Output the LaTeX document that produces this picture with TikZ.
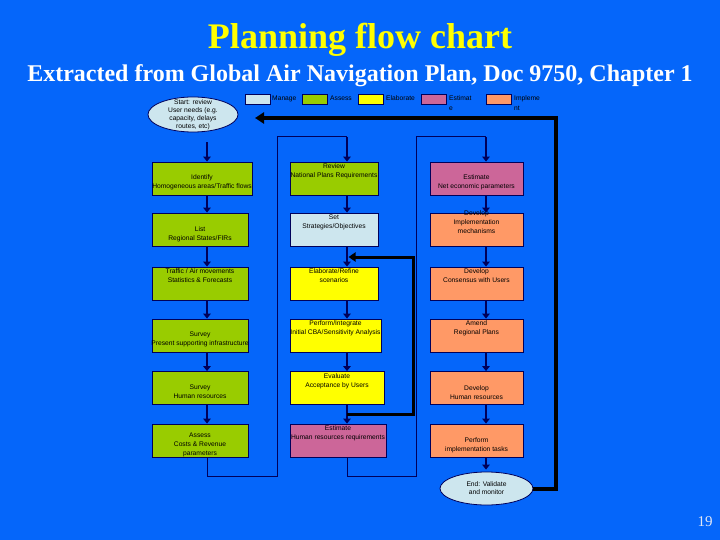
\documentclass[tikz,border=0pt]{standalone}
\usepackage{fontspec}
\setmainfont{Liberation Serif}
\setsansfont{Liberation Sans}
\usetikzlibrary{arrows.meta,shapes.geometric,calc}
\definecolor{bg}{RGB}{5,102,250}
\definecolor{cManage}{RGB}{205,230,238}
\definecolor{cAssess}{RGB}{153,204,0}
\definecolor{cElab}{RGB}{255,255,0}
\definecolor{cEst}{RGB}{204,102,153}
\definecolor{cImpl}{RGB}{255,153,102}
\definecolor{navy}{RGB}{0,0,90}
\definecolor{pgcol}{RGB}{225,230,245}
\begin{document}
\begin{tikzpicture}[x=1pt,y=-1pt,
  box/.style={draw=navy, line width=0.8pt, inner sep=0pt, minimum height=33},
  txt/.style={font=\sffamily\fontsize{6.7}{9}\selectfont, align=center, inner sep=0pt, text=black},
  ltxt/.style={font=\sffamily\fontsize{6.7}{9.5}\selectfont, align=left, inner sep=0pt, text=black, anchor=north west},
  lbox/.style={draw=navy, line width=0.8pt, inner sep=0pt, minimum width=25, minimum height=10},
  ell/.style={ellipse, draw=navy, line width=0.8pt, fill=cManage, inner sep=0pt},
  arr/.style={draw=navy, line width=2.5pt, -{Triangle[length=5pt,width=7.5pt]}},
  thinl/.style={draw=navy, line width=1pt},
  fb/.style={draw=black, line width=3pt, line join=miter, -{Triangle[length=7pt,width=9pt]}},
  bigloop/.style={draw=black, line width=4pt, line join=miter, -{Triangle[length=9pt,width=11pt]}},
  ]
\fill[bg] (0,0) rectangle (720,540);
\useasboundingbox (0,0) rectangle (720,540);

% titles
\node[font=\bfseries\fontsize{36}{40}\selectfont, text=cElab, anchor=base, inner sep=0pt] (title) at (360,49) {Planning flow chart};
\node[font=\bfseries\fontsize{24}{27}\selectfont, text=white, anchor=base, inner sep=0pt] (subtitle) at (360,82) {Extracted from Global Air Navigation Plan, Doc 9750, Chapter 1};

% legend
\node[lbox, fill=cManage] (lg1) at (257.5,99) {};
\node[ltxt] (lt1) at (272,95.5) {Manage};
\node[lbox, fill=cAssess] (lg2) at (314.5,99) {};
\node[ltxt] (lt2) at (330,95.5) {Assess};
\node[lbox, fill=cElab] (lg3) at (370.5,99) {};
\node[ltxt] (lt3) at (386,95.5) {Elaborate};
\node[lbox, fill=cEst] (lg4) at (434,99) {};
\node[ltxt] (lt4) at (449,95.5) {Estimat\\e};
\node[lbox, fill=cImpl] (lg5) at (498.5,99) {};
\node[ltxt] (lt5) at (514,95.5) {Impleme\\nt};

% start / end
\node[ell, minimum width=90, minimum height=35] (start) at (193,114.5) {};
\node[txt, font=\sffamily\fontsize{6.7}{8}\selectfont] (tstart) at ([yshift=-0.5pt]start.center) {Start: review\\User needs (e.g.\\capacity, delays\\routes, etc)};
\node[ell, minimum width=93, minimum height=33] (endn) at (486.5,488.5) {};
\node[txt, font=\sffamily\fontsize{6.7}{8}\selectfont] (tend) at (endn.center) {End: Validate\\and monitor};

% left column
\node[box, fill=cAssess, minimum width=100] (identify) at (202,178.5) {};
\node[txt] (t-identify) at ([yshift=-4pt]identify.center) {Identify\\Homogeneous areas/Traffic flows};
\node[box, fill=cAssess, minimum width=96] (list) at (200,229.5) {};
\node[txt] (t-list) at ([yshift=-4.5pt]list.center) {List\\Regional States/FIRs};
\node[box, fill=cAssess, minimum width=96] (traffic) at (200,283.5) {};
\node[txt, anchor=north] (t-traffic) at ([yshift=-1.5pt]traffic.north) {Traffic / Air movements\\Statistics \& Forecasts};
\node[box, fill=cAssess, minimum width=96] (survey1) at (200,335.5) {};
\node[txt] (t-survey1) at ([yshift=-3.5pt]survey1.center) {Survey\\Present supporting infrastructure};
\node[box, fill=cAssess, minimum width=96] (survey2) at (200,388) {};
\node[txt] (t-survey2) at ([yshift=-4pt]survey2.center) {Survey\\Human resources};
\node[box, fill=cAssess, minimum width=96] (assess) at (200,440.5) {};
\node[txt] (t-assess) at ([yshift=-4.5pt]assess.center) {Assess\\Costs \& Revenue\\parameters};

% middle column
\node[box, fill=cAssess, minimum width=88] (review) at (334,178.5) {};
\node[txt, anchor=north] (t-review) at ([yshift=-2pt]review.north) {Review\\National Plans Requirements};
\node[box, fill=cManage, minimum width=88] (set) at (334,229.5) {};
\node[txt, anchor=north] (t-set) at ([yshift=-2.5pt]set.north) {Set\\Strategies/Objectives};
\node[box, fill=cElab, minimum width=88] (elab) at (334,283.5) {};
\node[txt, anchor=north] (t-elab) at ([yshift=-2pt]elab.north) {Elaborate/Refine\\scenarios};
\node[box, fill=cElab, minimum width=91] (perform1) at (335.5,335.5) {};
\node[txt, anchor=north] (t-perform1) at ([yshift=-2pt]perform1.north) {Perform/Integrate\\Initial CBA/Sensitivity Analysis};
\node[box, fill=cElab, minimum width=94] (evaluate) at (337,388) {};
\node[txt, anchor=north] (t-evaluate) at ([yshift=-2pt]evaluate.north) {Evaluate\\Acceptance by Users};
\node[box, fill=cEst, minimum width=96] (esthr) at (338,440.5) {};
\node[txt, anchor=north] (t-esthr) at ([yshift=-2pt]esthr.north) {Estimate\\Human resources requirements};

% right column
\node[box, fill=cEst, minimum width=93] (estnet) at (476.5,178.5) {};
\node[txt] (t-estnet) at ([yshift=-3.5pt]estnet.center) {Estimate\\Net economic parameters};
\node[box, fill=cImpl, minimum width=93] (devimpl) at (476.5,229.5) {};
\node[txt, anchor=north] (t-devimpl) at ([yshift=2.5pt]devimpl.north) {Develop\\Implementation\\mechanisms};
\node[box, fill=cImpl, minimum width=93] (devcons) at (476.5,283.5) {};
\node[txt, anchor=north] (t-devcons) at ([yshift=-2pt]devcons.north) {Develop\\Consensus with Users};
\node[box, fill=cImpl, minimum width=93] (amend) at (476.5,335.5) {};
\node[txt, anchor=north] (t-amend) at ([yshift=-2pt]amend.north) {Amend\\Regional Plans};
\node[box, fill=cImpl, minimum width=93] (devhr) at (476.5,388) {};
\node[txt] (t-devhr) at ([yshift=-4.5pt]devhr.center) {Develop\\Human resources};
\node[box, fill=cImpl, minimum width=93] (perform2) at (476.5,440.5) {};
\node[txt] (t-perform2) at ([yshift=-4.5pt]perform2.center) {Perform\\implementation tasks};

% axes and corners
\coordinate (axL) at (207,0);
\coordinate (axM) at (347,0);
\coordinate (axR) at (486,0);
\coordinate (s1top) at (277,137);
\coordinate (s1bot) at (277,476);
\coordinate (s2top) at (416,137);
\coordinate (s2bot) at (416,476);
\coordinate (fbB) at (413,414);
\coordinate (fbT) at (413,257);
\coordinate (lpR) at (556,118);
\coordinate (lpL) at (255,118);

% column arrows
\draw[arr] ($(start.south)+(14,10)$) -- (identify.north -| axL);
\foreach \a/\b in {identify/list, list/traffic, traffic/survey1, survey1/survey2, survey2/assess}
  \draw[arr] (\a.south -| axL) -- (\b.north -| axL);
\foreach \a/\b in {review/set, set/elab, elab/perform1, perform1/evaluate, evaluate/esthr}
  \draw[arr] (\a.south -| axM) -- (\b.north -| axM);
\foreach \a/\b in {estnet/devimpl, devimpl/devcons, devcons/amend, amend/devhr, devhr/perform2}
  \draw[arr] (\a.south -| axR) -- (\b.north -| axR);
\draw[arr, shorten >=2pt] (perform2.south -| axR) -- (endn.north -| axR);

% connectors between columns
\draw[thinl] (assess.south -| axL) |- (s1bot) -- (s1top) -- (s1top -| axM);
\draw[arr] (s1top -| axM) -- (review.north -| axM);
\draw[thinl] (esthr.south -| axM) |- (s2bot) -- (s2top) -- (s2top -| axR);
\draw[arr] (s2top -| axR) -- (estnet.north -| axR);

% feedback loops
\draw[fb, shorten >=1.5pt] (fbB -| axM) -- (fbB) -- (fbT) -- (fbT -| axM);
\draw[bigloop] (endn.east) -| (lpR) -- (lpL);

% page number
\node[font=\fontsize{15}{18}\selectfont, text=pgcol, inner sep=0pt] (pg) at (705,522) {19};
\end{tikzpicture}
\end{document}
